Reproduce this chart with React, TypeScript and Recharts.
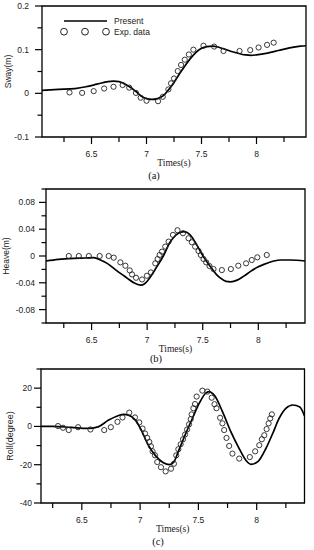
import React from "react";
import {
  ComposedChart,
  Line,
  Scatter,
  XAxis,
  YAxis,
  ReferenceArea,
} from "recharts";

// ---- time axis ----
const timeTicks = [6.25, 6.5, 6.75, 7, 7.25, 7.5, 7.75, 8, 8.25];
const timeLabels = ["", "6.5", "", "7", "", "7.5", "", "8", ""];

// ---- (a) sway ----
const swayTicks = [-0.1, -0.05, 0, 0.05, 0.1, 0.15, 0.2];
const swayLabels = ["-0.1", "", "0", "", "0.1", "", "0.2"];
const swayTime = [
  6.05, 6.2, 6.35, 6.45, 6.55, 6.65, 6.7, 6.75, 6.82, 6.9, 6.95, 7.0, 7.05, 7.1, 7.15, 7.2,
  7.25, 7.3, 7.35, 7.4, 7.45, 7.5, 7.55, 7.6, 7.65, 7.7, 7.8, 7.9, 7.95, 8.0, 8.1, 8.2, 8.3,
  8.4, 8.45,
];
const swayPresent = [
  0.007, 0.009, 0.011, 0.015, 0.021, 0.027, 0.028, 0.027, 0.019, 0.005, -0.006, -0.012,
  -0.014, -0.012, -0.006, 0.008, 0.025, 0.045, 0.063, 0.08, 0.094, 0.103, 0.107, 0.108,
  0.106, 0.102, 0.094, 0.088, 0.087, 0.088, 0.092, 0.098, 0.104, 0.108, 0.109,
];
const swayExpTime = [
  6.3, 6.415, 6.52, 6.615, 6.7, 6.783, 6.843, 6.904, 6.947, 7.0, 7.105, 7.148, 7.199, 7.223,
  7.25, 7.284, 7.314, 7.348, 7.385, 7.426, 7.518, 7.615, 7.7, 7.846, 7.943, 8.019, 8.096,
  8.156,
];
const swayExp = [
  0.002, 0.001, 0.005, 0.011, 0.015, 0.019, 0.013, 0.001, -0.01, -0.017, -0.018, -0.008,
  0.009, 0.023, 0.034, 0.051, 0.065, 0.077, 0.089, 0.1, 0.109, 0.107, 0.097, 0.097, 0.099,
  0.105, 0.111, 0.116,
];

// ---- (b) heave ----
const heaveTicks = [-0.1, -0.08, -0.06, -0.04, -0.02, 0, 0.02, 0.04, 0.06, 0.08, 0.1];
const heaveLabels = ["", "-0.08", "", "-0.04", "", "0", "", "0.04", "", "0.08", ""];
const heaveTime = [
  6.09, 6.2, 6.34, 6.45, 6.52, 6.58, 6.64, 6.7, 6.76, 6.82, 6.88, 6.94, 6.98, 7.03, 7.08,
  7.15, 7.2, 7.24, 7.28, 7.33, 7.39, 7.45, 7.51, 7.57, 7.62, 7.66, 7.71, 7.75, 7.81, 7.87,
  7.93, 8.0, 8.05, 8.14, 8.2, 8.29, 8.42,
];
const heavePresent = [
  -0.0075, -0.005, -0.0035, -0.003, -0.0025, -0.006, -0.011, -0.0185, -0.026, -0.033, -0.04,
  -0.0435, -0.041, -0.031, -0.018, 0.0015, 0.019, 0.028, 0.034, 0.0365, 0.031, 0.0155,
  -0.002, -0.016, -0.027, -0.033, -0.038, -0.0385, -0.036, -0.03, -0.023, -0.016, -0.0125,
  -0.0075, -0.006, -0.006, -0.0075,
];
const heaveExpTime = [
  6.295, 6.385, 6.475, 6.573, 6.654, 6.699, 6.759, 6.804, 6.843, 6.864, 6.9, 6.954, 6.998,
  7.034, 7.073, 7.094, 7.112, 7.133, 7.163, 7.193, 7.232, 7.273, 7.322, 7.372, 7.402, 7.432,
  7.462, 7.483, 7.507, 7.531, 7.561, 7.597, 7.672, 7.753, 7.82, 7.89, 7.941, 7.991, 8.076,
];
const heaveExp = [
  0, 0, 0, 0, 0, -0.0025, -0.0095, -0.0145, -0.0215, -0.0275, -0.0325, -0.035, -0.0295,
  -0.0245, -0.011, -0.0045, 0.0015, 0.0065, 0.014, 0.0215, 0.0315, 0.0385, 0.034, 0.0265,
  0.0205, 0.014, 0.0075, 0.0015, -0.0045, -0.0095, -0.015, -0.0195, -0.021, -0.0195,
  -0.0145, -0.011, -0.006, -0.002, 0.0015,
];

// ---- (c) roll ----
const rollTicks = [-40, -30, -20, -10, 0, 10, 20, 30];
const rollLabels = ["-40", "", "-20", "", "0", "", "20", ""];
const rollTime = [
  6.15, 6.25, 6.41, 6.55, 6.64, 6.73, 6.81, 6.86, 6.9, 6.96, 7.01, 7.07, 7.13, 7.2, 7.25,
  7.29, 7.33, 7.39, 7.45, 7.51, 7.56, 7.59, 7.64, 7.71, 7.78, 7.85, 7.91, 7.95, 8.01, 8.08,
  8.14, 8.19, 8.25, 8.31, 8.37, 8.41,
];
const rollPresent = [
  0, 0, -0.5, -1.0, -0.2, 3.3, 5.6, 6.3, 5.9, 3.3, -1.9, -9.8, -15.1, -19, -20, -18.5,
  -12.8, -3.9, 4.4, 12.4, 17.2, 18.2, 16, 7.2, -3, -11.6, -17.9, -19.8, -18.4, -11.4, -3.3,
  3.9, 9.4, 11.2, 10.2, 5.5,
];
const rollExpTime = [
  6.296, 6.339, 6.388, 6.468, 6.574, 6.692, 6.749, 6.806, 6.849, 6.907, 6.956, 6.993, 7.021,
  7.042, 7.061, 7.079, 7.093, 7.107, 7.128, 7.147, 7.179, 7.219, 7.265, 7.29, 7.31, 7.328,
  7.348, 7.368, 7.386, 7.403, 7.42, 7.434, 7.442, 7.457, 7.471, 7.485, 7.534, 7.577, 7.614,
  7.638, 7.655, 7.686, 7.706, 7.721, 7.741, 7.764, 7.792, 7.85, 7.941, 7.987, 8.022, 8.044,
  8.065, 8.085, 8.102, 8.116, 8.13,
];
const rollExp = [
  0.2, -0.7, -1.9, -0.4, -1.6, -1.9, -0.4, 2.4, 4.7, 7.2, 4.7, 2.1, -1.1, -3.7, -6, -8.1,
  -10.4, -13, -15.1, -18.6, -21.3, -23.5, -22.1, -19.5, -15.1, -11.9, -9.3, -6.7, -4.2,
  -1.6, 1.1, 3.8, 6.3, 9.5, 11.7, 15.6, 18.7, 18.2, 15, 11.6, 9.5, 4.5, 1.6, -1.9, -6,
  -10.2, -14.2, -16.8, -16, -13, -9.8, -6.7, -4.6, -1.4, 1.6, 4.2, 6.3,
];

const sans = "'Liberation Sans', Arial, sans-serif";
const serif = "'Liberation Serif', 'Times New Roman', serif";

const zip = (t: number[], v: number[]) => t.map((x, i) => ({ t: x, v: v[i] }));

function XTick(props: any) {
  const { x, y, payload, labels } = props;
  const lab = labels[payload.index] ?? "";
  const len = lab ? 7 : 5;
  return (
    <g>
      <line x1={x} x2={x} y1={y} y2={y + len} stroke="#000" strokeWidth={1.2} />
      {lab && (
        <text x={x} y={y + 17} textAnchor="middle" dominantBaseline="central" fontSize={8.5} fontFamily={sans} fill="#222">
          {lab}
        </text>
      )}
    </g>
  );
}

function YTick(props: any) {
  const { x, y, payload, labels, gap } = props;
  const lab = labels[payload.index] ?? "";
  const len = lab ? 7 : 4.5;
  return (
    <g>
      <line x1={x - len} x2={x} y1={y} y2={y} stroke="#000" strokeWidth={1.2} />
      {lab && (
        <text x={x - gap} y={y} textAnchor="end" dominantBaseline="central" fontSize={8.5} fontFamily={sans} fill="#222">
          {lab}
        </text>
      )}
    </g>
  );
}

interface PanelProps {
  top: number;
  height: number;
  plotLeft: number;
  marginRight: number;
  axisHeight: number;
  xDomain: [number, number];
  yDomain: [number, number];
  yTicks: number[];
  yLabels: string[];
  yGap: number;
  yTitle: string;
  yTitleX: number;
  yTitleSize: number;
  present: { t: number; v: number }[];
  exp: { t: number; v: number }[];
  caption: string;
  captionX: number;
}

function Panel(p: PanelProps) {
  return (
    <div style={{ position: "absolute", left: 0, top: p.top, width: 314, height: p.height }}>
      <ComposedChart
        width={314}
        height={p.height}
        margin={{ top: 6, right: p.marginRight, left: 0, bottom: 0 }}
      >
        <XAxis
          dataKey="t"
          type="number"
          domain={p.xDomain}
          ticks={timeTicks}
          interval={0}
          allowDataOverflow
          axisLine={false}
          tickLine={false}
          tickSize={0}
          tickMargin={0}
          height={p.axisHeight}
          tick={(tp: any) => <XTick {...tp} labels={timeLabels} />}
          label={{
            value: "Times(s)",
            position: "insideTop",
            offset: 22,
            fontSize: 9.5,
            fontFamily: serif,
            fill: "#222",
          }}
        />
        <YAxis
          type="number"
          domain={p.yDomain}
          ticks={p.yTicks}
          interval={0}
          allowDataOverflow
          axisLine={false}
          tickLine={false}
          tickSize={0}
          tickMargin={0}
          width={p.plotLeft}
          tick={(tp: any) => <YTick {...tp} labels={p.yLabels} gap={p.yGap} />}
          label={{
            content: (lp: any) => {
              const vb = lp.viewBox;
              const cy = vb.y + vb.height / 2;
              return (
                <text
                  x={p.yTitleX}
                  y={cy}
                  transform={`rotate(-90 ${p.yTitleX} ${cy})`}
                  textAnchor="middle"
                  dominantBaseline="central"
                  fontSize={p.yTitleSize}
                  fontFamily={sans}
                  fill="#222"
                >
                  {p.yTitle}
                </text>
              );
            },
          }}
        />
        <ReferenceArea
          x1={p.xDomain[0]}
          x2={p.xDomain[1]}
          y1={p.yDomain[0]}
          y2={p.yDomain[1]}
          fill="none"
          fillOpacity={0}
          stroke="#000"
          strokeWidth={1.3}
        />
        <Line
          data={p.present}
          dataKey="v"
          type="monotone"
          stroke="#000"
          strokeWidth={1.7}
          dot={false}
          activeDot={false}
          isAnimationActive={false}
        />
        <Scatter
          data={p.exp}
          dataKey="v"
          isAnimationActive={false}
          shape={(sp: any) => (
            <circle cx={sp.cx} cy={sp.cy} r={2.6} fill="none" stroke="#222" strokeWidth={0.9} />
          )}
        />
      </ComposedChart>
      <div
        style={{
          position: "absolute",
          left: p.captionX - 20,
          width: 40,
          top: p.height - 10,
          textAlign: "center",
          fontFamily: serif,
          fontSize: 10.5,
          lineHeight: "12px",
          color: "#111",
        }}
      >
        {p.caption}
      </div>
    </div>
  );
}

function SwayLegend() {
  return (
    <svg width={160} height={40} style={{ position: "absolute", left: 0, top: 0 }}>
      <line x1={64} x2={107} y1={21} y2={21} stroke="#000" strokeWidth={1.7} />
      <text x={114} y={21} dominantBaseline="central" fontSize={8.5} fontFamily={sans} fill="#222">
        Present
      </text>
      {[64, 85, 106].map((cx) => (
        <circle key={cx} cx={cx} cy={31.7} r={3.4} fill="none" stroke="#222" strokeWidth={1} />
      ))}
      <text x={114} y={32} dominantBaseline="central" fontSize={8.5} fontFamily={sans} fill="#222">
        Exp. data
      </text>
    </svg>
  );
}

export default function App() {
  return (
    <div
      style={{
        position: "absolute",
        left: 0,
        top: 0,
        width: 314,
        height: 550,
        background: "#fff",
        overflow: "hidden",
      }}
    >
      <Panel
        top={0}
        height={180}
        plotLeft={42}
        marginRight={8}
        axisHeight={43}
        xDomain={[6.05, 8.45]}
        yDomain={[-0.1, 0.2]}
        yTicks={swayTicks}
        yLabels={swayLabels}
        yGap={13}
        yTitle="Sway(m)"
        yTitleX={8}
        yTitleSize={8.5}
        present={zip(swayTime, swayPresent)}
        exp={zip(swayExpTime, swayExp)}
        caption="(a)"
        captionX={154}
      />
      <SwayLegend />
      <Panel
        top={183}
        height={180}
        plotLeft={46}
        marginRight={9}
        axisHeight={40}
        xDomain={[6.09, 8.42]}
        yDomain={[-0.1, 0.1]}
        yTicks={heaveTicks}
        yLabels={heaveLabels}
        yGap={11}
        yTitle="Heave(m)"
        yTitleX={6}
        yTitleSize={8.5}
        present={zip(heaveTime, heavePresent)}
        exp={zip(heaveExpTime, heaveExp)}
        caption="(b)"
        captionX={156}
      />
      <Panel
        top={363}
        height={183}
        plotLeft={41}
        marginRight={9.5}
        axisHeight={43}
        xDomain={[6.15, 8.41]}
        yDomain={[-40, 30]}
        yTicks={rollTicks}
        yLabels={rollLabels}
        yGap={9}
        yTitle="Roll(degree)"
        yTitleX={10}
        yTitleSize={9}
        present={zip(rollTime, rollPresent)}
        exp={zip(rollExpTime, rollExp)}
        caption="(c)"
        captionX={158}
      />
    </div>
  );
}
